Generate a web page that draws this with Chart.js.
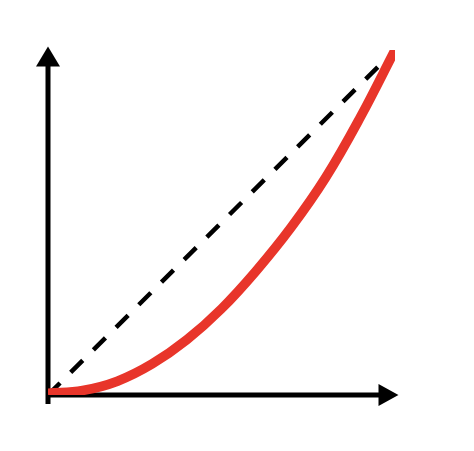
<!DOCTYPE html>
<html>
<head>
<meta charset="utf-8">
<script src="https://cdn.jsdelivr.net/npm/chart.js@4.4.0/dist/chart.umd.min.js"></script>
<style>
  html, body { margin: 0; padding: 0; background: #fff; }
  #wrap { width: 474px; height: 451px; }
</style>
</head>
<body>
<div id="wrap"><canvas id="curveChart" width="474" height="451"></canvas></div>
<script>
// points (share of x vs share of y)
const curveX = [0, 0.10, 0.20, 0.30, 0.40, 0.50, 0.60, 0.70, 0.80, 0.90, 1.0];
const curveY = [0.005, 0.013, 0.04, 0.09, 0.16, 0.25, 0.36, 0.485, 0.63, 0.805, 1.0];
const diagX = [0, 0.97];
const diagY = [0, 0.97];
const axisTip = 1.01;

function toPoints(xs, ys) {
    return xs.map((x, i) => ({ x: x, y: ys[i] }));
}

// black axes with arrow heads, drawn under the lines
const arrowAxes = {
    id: 'arrowAxes',
    beforeDatasetsDraw(chart) {
        const ctx = chart.ctx;
        const sx = chart.scales.x, sy = chart.scales.y;
        const x0 = sx.getPixelForValue(0), y0 = sy.getPixelForValue(0);
        const xt = sx.getPixelForValue(axisTip), yt = sy.getPixelForValue(axisTip);
        ctx.save();
        ctx.strokeStyle = '#000';
        ctx.fillStyle = '#000';
        ctx.lineWidth = 5;
        ctx.beginPath();
        ctx.moveTo(x0, y0 + 9);
        ctx.lineTo(x0, yt + 15);
        ctx.moveTo(x0, y0);
        ctx.lineTo(xt - 15, y0);
        ctx.stroke();
        ctx.beginPath();
        ctx.moveTo(x0, yt);
        ctx.lineTo(x0 - 12, yt + 20);
        ctx.lineTo(x0 + 12, yt + 20);
        ctx.closePath();
        ctx.fill();
        ctx.beginPath();
        ctx.moveTo(xt, y0);
        ctx.lineTo(xt - 20, y0 - 11);
        ctx.lineTo(xt - 20, y0 + 11);
        ctx.closePath();
        ctx.fill();
        ctx.restore();
    }
};

const ctx = document.getElementById('curveChart').getContext('2d');
new Chart(ctx, {
    type: 'scatter',
    data: {
        datasets: [
            {
                label: 'curve',
                data: toPoints(curveX, curveY),
                showLine: true,
                borderColor: '#e8352a',
                borderWidth: 9.5,
                borderCapStyle: 'butt',
                pointRadius: 0,
                tension: 0.4,
                order: 0
            },
            {
                label: 'equality',
                data: toPoints(diagX, diagY),
                showLine: true,
                borderColor: '#000',
                borderWidth: 4.5,
                borderDash: [17, 15],
                pointRadius: 0,
                order: 1
            }
        ]
    },
    options: {
        responsive: false,
        animation: false,
        layout: { padding: { left: 48, right: 79, top: 50, bottom: 56 } },
        scales: {
            x: { type: 'linear', min: 0, max: 1, display: false },
            y: { type: 'linear', min: 0, max: 1, display: false }
        },
        plugins: {
            legend: { display: false },
            tooltip: { enabled: false }
        }
    },
    plugins: [arrowAxes]
});
</script>
</body>
</html>
